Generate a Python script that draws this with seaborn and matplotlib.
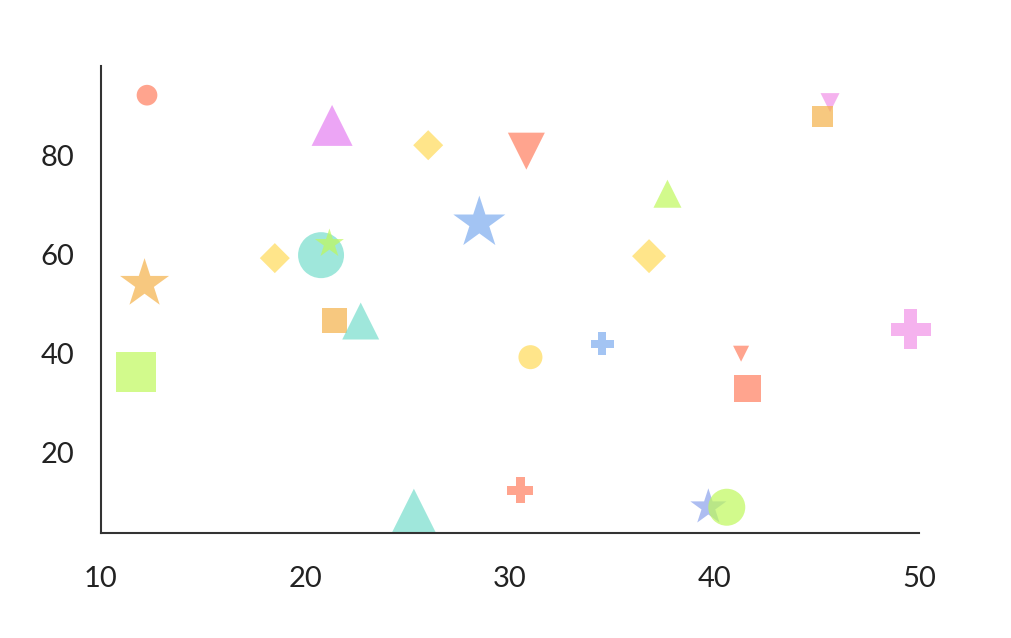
import matplotlib
matplotlib.use("Agg")
import matplotlib.pyplot as plt
import seaborn as sns
import pandas as pd

x_vals = [12.25, 21.3, 26.0, 30.8, 45.65, 45.3, 37.7, 28.5, 36.8, 18.5, 20.76, 21.17, 12.13,
          21.44, 22.7, 11.7, 31.0, 34.5, 41.3, 41.6, 49.6, 30.5, 39.7, 40.6, 25.3]
y_vals = [92.1, 86.0, 82.0, 80.8, 90.6, 87.8, 72.2, 66.3, 59.6, 59.2, 59.8, 62.1, 54.0,
          46.6, 46.5, 36.3, 39.2, 41.9, 39.9, 32.8, 44.8, 12.3, 8.9, 8.9, 8.1]
shapes = ["circle", "tri_up", "diamond", "tri_down", "tri_down", "square", "tri_up", "star",
          "diamond", "diamond", "circle", "star", "star", "square", "tri_up", "square", "circle",
          "plus", "tri_down", "square", "plus", "plus", "star", "circle", "tri_up"]
colour_names = ["salmon", "violet", "yellow", "salmon", "pink", "orange", "green", "blue",
                "yellow", "yellow", "teal", "green", "orange", "orange", "teal", "green", "yellow",
                "blue", "salmon", "salmon", "pink", "salmon", "periwinkle", "green", "teal"]
areas = [222, 871, 234, 709, 187, 228, 406, 1550, 300, 234, 1096, 482, 1376, 324, 709, 829,
         299, 274, 133, 378, 829, 350, 744, 709, 1050]

palette = {
    "salmon": "#ff7e5f",
    "violet": "#e57ff1",
    "yellow": "#ffdb58",
    "orange": "#f5b149",
    "blue": "#7cabef",
    "periwinkle": "#8aa2ec",
    "teal": "#77decd",
    "green": "#bff85b",
    "pink": "#f192e8",
}
marker_map = {"circle": "o", "tri_up": "^", "tri_down": "v", "diamond": "D",
              "square": "s", "star": "*", "plus": "P"}

df = pd.DataFrame({"x": x_vals, "y": y_vals, "shape": shapes,
                   "colour": colour_names, "area": areas})

sns.set_theme(style="white")
plt.rcParams["font.family"] = ["Lato", "DejaVu Sans"]

fig = plt.figure(figsize=(10.12, 6.38), dpi=100)
ax = fig.add_axes([0.0998, 0.1646, 0.8083, 0.732])

sns.scatterplot(data=df, x="x", y="y", hue="colour", palette=palette,
                style="shape", markers=marker_map, size="area",
                sizes=(min(areas), max(areas)), alpha=0.7, linewidth=0,
                legend=False, ax=ax, clip_on=False)

ax.set_xlim(10, 50)
ax.set_ylim(3.7, 98)
ax.set_xticks([10, 20, 30, 40, 50])
ax.set_yticks([20, 40, 60, 80])
ax.set_xlabel("")
ax.set_ylabel("")
sns.despine(ax=ax)
for side in ["left", "bottom"]:
    ax.spines[side].set_color("#333333")
    ax.spines[side].set_linewidth(1.5)
ax.tick_params(axis="both", length=0, labelsize=21, colors="#222222")
ax.tick_params(axis="x", pad=24)
ax.tick_params(axis="y", pad=19)

fig.savefig("out.png", dpi=100)
